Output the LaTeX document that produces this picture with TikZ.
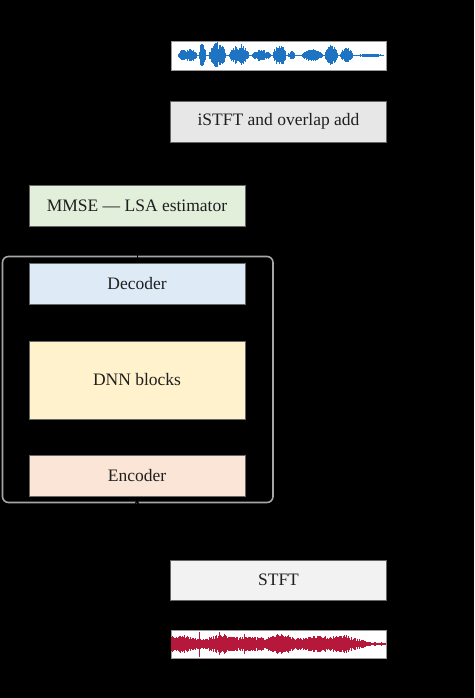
\documentclass[tikz,border=0pt]{standalone}
\usepackage{fontspec}
\setmainfont{Liberation Serif}
\usetikzlibrary{arrows.meta}
\definecolor{boxgray}{HTML}{E8E7E7}
\definecolor{stftgray}{HTML}{F2F2F2}
\definecolor{mmsegreen}{HTML}{E2EFDA}
\definecolor{decblue}{HTML}{DEEBF7}
\definecolor{dnnyellow}{HTML}{FFF2CC}
\definecolor{encorange}{HTML}{FBE5D6}
\definecolor{wavblue}{HTML}{1E74C2}
\definecolor{wavred}{HTML}{B5183B}
\definecolor{framegray}{HTML}{A6A6A6}
\tikzset{
  blk/.style={draw=black!60, line width=0.5pt, minimum width=216pt, inner sep=0pt,
    font=\fontsize{17.5}{20}\selectfont, text=black!88},
  wavbox/.style={fill=white, draw=black!40, line width=0.4pt, minimum width=215pt, inner sep=0pt},
  conn/.style={draw=black, line width=0.8pt, -{Stealth[length=6pt]}, shorten >=2pt, shorten <=2pt}
}
\begin{document}
\begin{tikzpicture}[x=1pt,y=-1pt]
\fill[black] (0,0) rectangle (474,698);
\useasboundingbox (0,0) rectangle (474,698);
% waveform boxes
\node[wavbox, minimum height=29pt] (wout) at (278.5,55.5) {};
\node[wavbox, minimum height=28pt] (win) at (278.5,644) {};
% blue waveform (bursts)
\pgfmathsetseed{7}
\draw[wavblue, line width=0.6pt] (178,55.5) -- (382,55.5);
\foreach \s/\e/\h in {178/197/7, 199/206/13, 209/226/13, 229/249/11, 252/271/6, 273/286/11, 288/295/4, 302/323/6, 325/338/11, 340/353/7, 358/383/1.2}{
  \pgfmathsetmacro{\len}{\e-\s}
  \foreach \i in {0,0.5,...,\len}{
    \pgfmathsetmacro{\xx}{\s+\i}
    \pgfmathsetmacro{\aa}{\h*(0.35+0.65*rnd)*sin(180*\i/\len)^0.6+0.6}
    \draw[wavblue, line width=0.6pt] (\xx,55.5-\aa) -- (\xx,55.5+\aa*0.9);
  }
}
% red waveform
\pgfmathsetseed{11}
\foreach \i in {0,0.5,...,214}{
  \pgfmathsetmacro{\xx}{171.5+\i}
  \pgfmathsetmacro{\env}{(\i<175) ? (7.5+2.5*sin(\i*9)*sin(\i*2.3)) : (7.5-6.5*min(1,(\i-175)/25))}
  \pgfmathsetmacro{\aa}{\env*(0.45+0.55*rnd)+0.6}
  \draw[wavred, line width=0.6pt] (\xx,644-\aa) -- (\xx,644+\aa);
}
\draw[wavred, line width=1pt] (199,632) -- (199,657);
\draw[wavred, line width=0.8pt] (219,632) -- (219,655);
\draw[wavred, line width=0.8pt] (244,634) -- (244,654);
% blocks
\node[blk, fill=boxgray, minimum height=41pt] (istft) at (278.5,121.5) {iSTFT and overlap add};
\node[blk, fill=mmsegreen, minimum height=41pt] (mmse) at (137,205.5) {MMSE — LSA estimator};
\draw[framegray, line width=1.6pt, rounded corners=6pt] (2.5,256.5) rectangle (273,502.5);
\node[blk, fill=decblue, minimum height=41pt] (dec) at (137,283.5) {Decoder};
\node[blk, fill=dnnyellow, minimum height=78pt] (dnn) at (137,380) {DNN blocks};
\node[blk, fill=encorange, minimum height=41pt] (enc) at (137,475.5) {Encoder};
\node[blk, fill=stftgray, minimum height=40pt] (stft) at (278.5,580) {STFT};
% connectors (black on the black ground)
\draw[conn] (win) -- (stft);
\draw[conn] (stft.north) -- ++(0,-30) -| (enc.south);
\draw[conn] (enc) -- (dnn);
\draw[conn] (dnn) -- (dec);
\draw[conn] (dec) -- (mmse);
\draw[conn] (mmse.north) -- ++(0,-22) -| (istft.south);
\draw[conn] (istft) -- (wout);
\end{tikzpicture}
\end{document}
